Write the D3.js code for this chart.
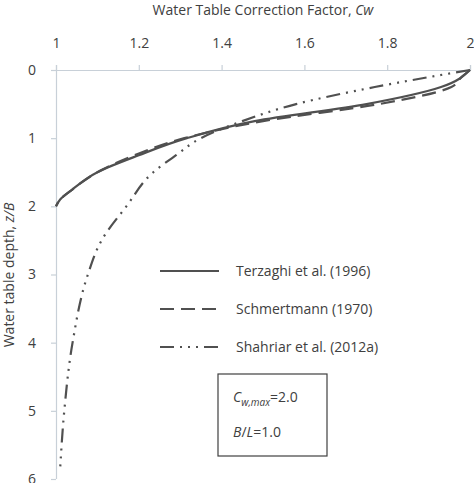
<!DOCTYPE html>
<html><head><meta charset="utf-8">
<script src="https://cdn.jsdelivr.net/npm/d3@7"></script>
<style>body{margin:0;background:#fff}text{font-family:'Open Sans',sans-serif;fill:#404040}</style>
</head><body><svg width="474" height="483"></svg>
<script>
const xTicks = [1, 1.2, 1.4, 1.6, 1.8, 2];
const yTicks = [0, 1, 2, 3, 4, 5, 6];
const terzaghi = [[2,0],[1.93,0.25],[1.75,0.5],[1.48,0.75],[1.316,1],[1.2,1.25],[1.1,1.5],[1.04,1.75],[1.01,1.9],[1.0,2]];
const schmertmann = [[2,0],[1.98,0.1],[1.955,0.25],[1.78,0.5],[1.5,0.75],[1.31,1],[1.19,1.25],[1.1,1.5],[1.04,1.75],[1.01,1.9],[1.0,2]];
const shahriar = [[2,0],[1.77,0.25],[1.58,0.5],[1.45,0.75],[1.35,1],[1.29,1.25],[1.235,1.5],[1.17,2],[1.11,2.5],[1.077,3],[1.04,4],[1.02,5],[1.01,5.85]];
const series = [
  {name:"Terzaghi et al. (1996)", data:terzaghi, dash:null},
  {name:"Schmertmann (1970)", data:schmertmann, dash:"14,7"},
  {name:"Shahriar et al. (2012a)", data:shahriar, dash:"14,6,2,6,2,6,2,6"}
];
const svg = d3.select("svg");
const x = d3.scaleLinear().domain([1,2]).range([56,470]);
const y = d3.scaleLinear().domain([0,6]).range([70,479]);
const gx = svg.append("g").attr("transform","translate(0,70)")
  .call(d3.axisTop(x).tickValues(xTicks).tickFormat(d3.format("")).tickSize(5).tickPadding(17));
const gy = svg.append("g").attr("transform","translate(56,0)")
  .call(d3.axisLeft(y).tickValues(yTicks).tickFormat(d3.format("d")).tickSize(5).tickPadding(15));
[gx,gy].forEach(g=>{
  g.selectAll("path,line").attr("stroke","#c8d0d8").attr("stroke-width",1.2);
  g.selectAll("text").style("font-size","14px").attr("fill","#404040");
});
gy.select(".domain").attr("d","M-5,70.5H0.5V479");
svg.append("text").attr("x",263).attr("y",15).attr("text-anchor","middle").style("font-size","14px")
  .html("Water Table Correction Factor, <tspan font-style='italic'>Cw</tspan>");
svg.append("text").attr("transform","translate(14,275) rotate(-90)").attr("text-anchor","middle").style("font-size","14px")
  .html("Water table depth, <tspan font-style='italic'>z/B</tspan>");
const line = d3.line().x(d=>x(d[0])).y(d=>y(d[1])).curve(d3.curveMonotoneY);
series.forEach(s=>{
  svg.append("path").datum(s.data).attr("d",line).attr("fill","none")
    .attr("stroke","#505050").attr("stroke-width",2.2).attr("stroke-dasharray",s.dash);
});
series.forEach((s,i)=>{
  const ly = 271 + i*38;
  svg.append("line").attr("x1",160).attr("x2",219).attr("y1",ly).attr("y2",ly)
    .attr("stroke","#505050").attr("stroke-width",2.2).attr("stroke-dasharray",s.dash);
  svg.append("text").attr("x",236).attr("y",ly+5).style("font-size","14px").text(s.name);
});
svg.append("rect").attr("x",218).attr("y",374).attr("width",109).attr("height",82)
  .attr("fill","none").attr("stroke","#404040").attr("stroke-width",1.2);
svg.append("text").attr("x",233).attr("y",402).style("font-size","14px")
  .html("<tspan font-style='italic'>C</tspan><tspan font-style='italic' font-size='10px' dy='4'>w,max</tspan><tspan dy='-4'>=2.0</tspan>");
svg.append("text").attr("x",233).attr("y",437).style("font-size","14px")
  .html("<tspan font-style='italic'>B</tspan>/<tspan font-style='italic'>L</tspan>=1.0");
</script></body></html>
